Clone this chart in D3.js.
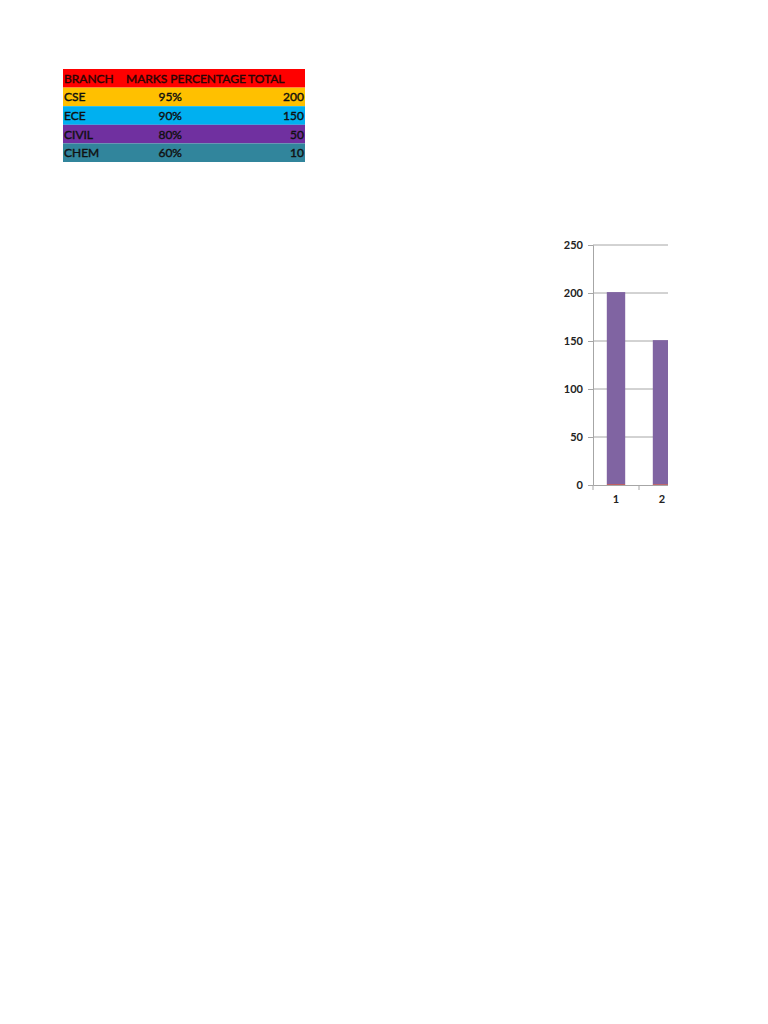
<!DOCTYPE html>
<html>
<head>
<meta charset="utf-8">
<script src="https://cdn.jsdelivr.net/npm/d3@7"></script>
<style>
  html, body { margin: 0; padding: 0; background: #fff; }
  svg { display: block; }
</style>
</head>
<body>
<svg id="page" width="768" height="1024"></svg>
<script>
// table data
const headers = ['BRANCH', 'MARKS PERCENTAGE', 'TOTAL'];
const branches = ['CSE', 'ECE', 'CIVIL', 'CHEM'];
const percentages = [0.95, 0.90, 0.80, 0.60];
const totals = [200, 150, 50, 10];
const rowColors = ['#FFC000', '#00B0F0', '#7030A0', '#31859C'];
const headerColor = '#FF0000';

// chart data (stacked: percentage + total per category)
const categories = ['1', '2', '3', '4'];
const yTicks = [0, 50, 100, 150, 200, 250];
const seriesNames = ['MARKS PERCENTAGE', 'TOTAL'];
const seriesColors = ['#C0504D', '#8064A2'];

const svg = d3.select('#page');
const font = 'Lato, "Open Sans", sans-serif';

// ── Table ────────────────────────────────────────────
const tbl = { x: 63, y: 69, w: 242, rowH: 18.6 };
const colX = d3.scaleOrdinal().domain(headers).range([64, 126, 248]);

const tg = svg.append('g')
  .attr('font-family', font)
  .attr('font-size', '12px')
  .attr('stroke-width', 0.4);

tg.append('rect')
  .attr('x', tbl.x).attr('y', tbl.y)
  .attr('width', tbl.w).attr('height', tbl.rowH)
  .attr('fill', headerColor);

tg.selectAll('text.hdr')
  .data(headers)
  .join('text')
  .attr('class', 'hdr')
  .attr('x', d => colX(d))
  .attr('y', tbl.y + tbl.rowH / 2 + 4.5)
  .attr('fill', '#2a0505')
  .attr('stroke', '#2a0505')
  .text(d => d);

const rows = tg.selectAll('g.row')
  .data(branches.map((b, i) => ({ b, p: percentages[i], t: totals[i], c: rowColors[i] })))
  .join('g')
  .attr('class', 'row')
  .attr('transform', (d, i) => `translate(0,${tbl.y + tbl.rowH * (i + 1)})`);

rows.append('rect')
  .attr('x', tbl.x).attr('width', tbl.w)
  .attr('height', tbl.rowH)
  .attr('fill', d => d.c);

rows.append('text')
  .attr('x', 64).attr('y', tbl.rowH / 2 + 4.5)
  .attr('fill', '#111').attr('stroke', '#111')
  .text(d => d.b);

rows.append('text')
  .attr('x', 182).attr('y', tbl.rowH / 2 + 4.5)
  .attr('text-anchor', 'end')
  .attr('fill', '#111').attr('stroke', '#111')
  .text(d => d3.format('.0%')(d.p));

rows.append('text')
  .attr('x', 304).attr('y', tbl.rowH / 2 + 4.5)
  .attr('text-anchor', 'end')
  .attr('fill', '#111').attr('stroke', '#111')
  .text(d => d.t);

// ── Chart (clipped on the right like the source) ─────
const plot = { left: 593, top: 245, bottom: 485, right: 777, clipRight: 668 };

const x = d3.scaleBand()
  .domain(categories)
  .range([plot.left, plot.right])
  .paddingInner(0.6)
  .paddingOuter(0.3);

const y = d3.scaleLinear()
  .domain([0, 250])
  .range([plot.bottom, plot.top]);

svg.append('clipPath').attr('id', 'clip')
  .append('rect')
  .attr('x', 540).attr('y', 230)
  .attr('width', plot.clipRight - 540).attr('height', 290);

const cg = svg.append('g').attr('clip-path', 'url(#clip)');

// gridlines
cg.append('g')
  .selectAll('line')
  .data(yTicks.slice(1))
  .join('line')
  .attr('x1', plot.left).attr('x2', plot.right)
  .attr('y1', d => y(d)).attr('y2', d => y(d))
  .attr('stroke', '#a6a6a6').attr('stroke-width', 1);

// stacked bars
const stackData = categories.map((c, i) => ({ cat: c, 'MARKS PERCENTAGE': percentages[i], TOTAL: totals[i] }));
const stacked = d3.stack().keys(seriesNames)(stackData);

cg.append('g')
  .selectAll('g')
  .data(stacked)
  .join('g')
  .attr('fill', (d, i) => seriesColors[i])
  .selectAll('rect')
  .data(d => d)
  .join('rect')
  .attr('x', d => x(d.data.cat))
  .attr('width', x.bandwidth())
  .attr('y', d => y(d[1]))
  .attr('height', d => Math.max(0.8, y(d[0]) - y(d[1])));

// y axis
const yAxis = cg.append('g')
  .attr('transform', `translate(${plot.left},0)`)
  .call(d3.axisLeft(y).tickValues(yTicks).tickSize(5).tickPadding(5));
yAxis.select('.domain').attr('stroke', '#a6a6a6');
yAxis.selectAll('.tick line').attr('stroke', '#a6a6a6');
yAxis.selectAll('text')
  .attr('font-family', font).attr('font-size', '11px')
  .attr('font-weight', 'bold').attr('fill', '#222');

// x axis with ticks between categories
const xAxis = cg.append('g')
  .attr('transform', `translate(0,${plot.bottom})`)
  .call(d3.axisBottom(x).tickSize(0).tickPadding(10));
xAxis.select('.domain').attr('stroke', '#a6a6a6');
xAxis.selectAll('text')
  .attr('font-family', font).attr('font-size', '11px')
  .attr('font-weight', 'bold').attr('fill', '#222');

const step = x.step();
xAxis.selectAll('line.sep')
  .data(d3.range(categories.length + 1))
  .join('line')
  .attr('class', 'sep')
  .attr('x1', i => plot.left + i * step)
  .attr('x2', i => plot.left + i * step)
  .attr('y1', 0).attr('y2', 5)
  .attr('stroke', '#a6a6a6');
</script>
</body>
</html>
